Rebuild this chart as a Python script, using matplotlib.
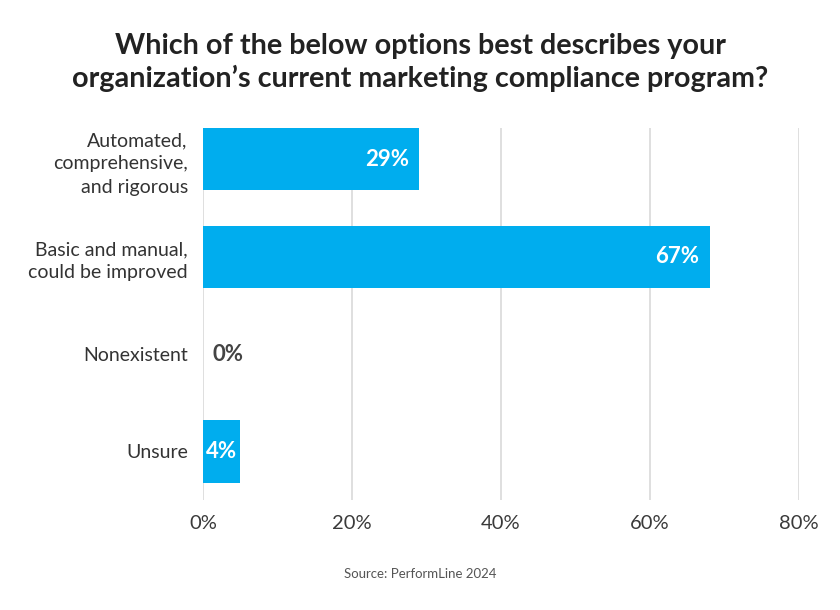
import matplotlib.pyplot as plt
from matplotlib.ticker import FuncFormatter

# data
categories = ["Automated,\ncomprehensive,\nand rigorous",
              "Basic and manual,\ncould be improved",
              "Nonexistent",
              "Unsure"]
values = [29, 68, 0, 5]
value_labels = ["29%", "67%", "0%", "4%"]
x_ticks = [0, 20, 40, 60, 80]

plt.rcParams['font.family'] = ['Lato', 'DejaVu Sans']

fig = plt.figure(figsize=(8.4, 6.1), dpi=100)
ax = fig.add_axes([0.2417, 0.180, 0.7095, 0.610])

bar_color = '#00ADEE'
ypos = range(len(categories))
ax.barh(ypos, values, height=0.64, color=bar_color, zorder=3)

for y, v, lab in zip(ypos, values, value_labels):
    if v == 0:
        ax.text(1.3, y, lab, ha='left', va='center', fontsize=16,
                fontweight='bold', color='#444444', zorder=4)
    elif v < 8:
        ax.text(v / 2, y, lab, ha='center', va='center', fontsize=16,
                fontweight='bold', color='white', zorder=4)
    else:
        ax.text(v - 1.4, y, lab, ha='right', va='center', fontsize=16,
                fontweight='bold', color='white', zorder=4)

ax.set_xlim(0, 80)
ax.set_ylim(3.5, -0.32)
ax.set_xticks(x_ticks)
ax.xaxis.set_major_formatter(FuncFormatter(lambda v, p: f"{v:.0f}%"))
ax.set_yticks(list(ypos))
ax.set_yticklabels(categories, fontsize=14, color='#333333', linespacing=1.45)
ax.tick_params(axis='x', labelsize=14.5, colors='#3a3a3a', length=0, pad=11)
ax.tick_params(axis='y', length=0, pad=11)
ax.grid(axis='x', color='#d9d9d9', linewidth=1.2, zorder=0)
ax.set_axisbelow(True)
for s in ax.spines.values():
    s.set_visible(False)

fig.text(0.5, 0.898, "Which of the below options best describes your\n"
         "organization\u2019s current marketing compliance program?",
         ha='center', va='center', fontsize=20.7, fontweight='bold',
         color='#222222', linespacing=1.25)
fig.text(0.5, 0.059, "Source: PerformLine 2024", ha='center', va='center',
         fontsize=9.5, color='#555555')

fig.savefig('out.png', dpi=100)
